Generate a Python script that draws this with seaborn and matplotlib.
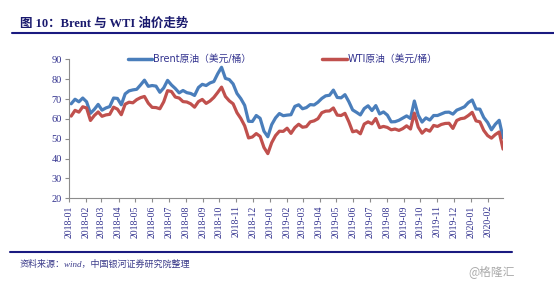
import pandas as pd
import matplotlib.pyplot as plt
import matplotlib.dates as mdates
from matplotlib.lines import Line2D
import seaborn as sns

# weekly (Friday) closes
weeks = pd.date_range('2018-01-05', '2020-02-28', freq='W-FRI')

brent = [
    # 2018
    67.6, 69.9, 68.6, 70.5,
    68.6, 62.8, 64.8, 67.3,
    64.4, 65.5, 66.2, 70.5, 70.3,
    67.1, 72.6, 74.1, 74.6,
    74.9, 77.1, 79.5, 76.4,
    76.8, 76.5, 73.4, 75.6, 79.4,
    77.1, 75.3, 73.1, 74.3,
    73.2, 72.8, 71.8, 75.8, 77.4,
    76.8, 78.1, 78.8, 82.7,
    86.0, 80.4, 79.8, 77.6,
    72.8, 70.2, 66.8, 58.8, 58.7,
    61.7, 60.3, 53.8, 51.0,
    # 2019
    57.1, 60.5, 62.7, 61.6,
    61.9, 62.1, 66.3, 67.1,
    65.1, 65.7, 67.2, 67.0, 68.4,
    70.3, 71.6, 71.9, 74.5,
    70.8, 70.6, 72.2, 68.7, 64.5,
    63.3, 62.0, 65.2, 66.6,
    64.2, 66.7, 62.5, 63.5,
    61.9, 58.5, 58.6, 59.3, 60.4,
    61.5, 60.2, 69.0, 61.9,
    58.4, 60.5, 59.4, 61.7,
    61.7, 62.5, 63.3, 63.4, 62.4,
    64.4, 65.2, 66.1, 68.2,
    # 2020
    69.5, 65.0, 64.9, 60.7, 58.2,
    54.5, 57.3, 59.3, 50.5,
]

wti = [
    # 2018
    61.4, 64.3, 63.4, 66.1,
    65.5, 59.2, 61.7, 63.5,
    61.3, 62.0, 62.3, 65.9, 64.9,
    62.1, 67.4, 68.4, 68.1,
    69.7, 70.7, 71.3, 67.9,
    65.8, 65.7, 65.1, 68.6, 74.2,
    73.8, 71.0, 70.5, 68.7,
    68.5, 67.6, 65.9, 68.7, 69.8,
    67.8, 69.0, 70.8, 73.3,
    76.0, 71.3, 69.1, 67.6,
    63.1, 60.2, 56.5, 50.4, 50.9,
    52.6, 51.2, 45.6, 42.5,
    # 2019
    48.0, 51.6, 53.8, 53.7,
    55.3, 52.7, 55.6, 57.3,
    55.8, 56.1, 58.5, 59.0, 60.1,
    63.1, 63.9, 64.0, 65.5,
    61.9, 61.7, 62.8, 58.6, 53.5,
    54.0, 52.5, 57.4, 58.5,
    57.5, 60.2, 55.6, 56.2,
    55.7, 54.5, 54.9, 54.2, 55.1,
    56.5, 54.9, 62.9, 55.9,
    52.8, 54.7, 53.8, 56.7,
    56.2, 57.2, 57.7, 57.8, 55.2,
    59.2, 60.1, 60.4, 61.7,
    # 2020
    63.3, 59.0, 58.5, 54.2, 51.6,
    50.3, 52.1, 53.4, 44.8,
]

series_names = ['Brent原油（美元/桶）', 'WTI原油（美元/桶）']
colors = ['#4a7ebb', '#c0504d']

df = pd.DataFrame({'date': weeks, series_names[0]: brent, series_names[1]: wti})
df = df.melt('date', var_name='series', value_name='price')

sns.set_theme(style='white')
plt.rcParams['font.family'] = ['Liberation Serif', 'Noto Sans CJK SC']

navy = '#33338f'
fig = plt.figure(figsize=(5.54, 2.86), dpi=100)
ax = fig.add_axes([0.1245, 0.3066, 0.7835, 0.486])

sns.lineplot(df, x='date', y='price', hue='series', palette=colors,
             linewidth=2.3, ax=ax)

ax.set_xlim(pd.Timestamp('2018-01-01'), pd.Timestamp('2020-02-28'))
ax.set_ylim(20, 90)
ax.set_yticks(range(20, 91, 10))
ax.xaxis.set_major_locator(mdates.MonthLocator())
ax.xaxis.set_major_formatter(mdates.DateFormatter('%Y-%m'))
ax.set_xlabel('')
ax.set_ylabel('')

for s in ['top', 'right']:
    ax.spines[s].set_visible(False)
for s in ['left', 'bottom']:
    ax.spines[s].set_color('#8c8c8c')
    ax.spines[s].set_linewidth(0.8)

ax.tick_params(axis='x', rotation=90, labelsize=7, colors='#8c8c8c',
               labelcolor=navy, length=3, width=0.8, direction='out', pad=2,
               bottom=True)
ax.tick_params(axis='y', labelsize=7.5, colors='#8c8c8c', labelcolor=navy,
               length=3, width=0.8, direction='out', pad=2, left=True)

leg = ax.legend(ncol=2, loc='center left', bbox_to_anchor=(0.136, 1.0),
                frameon=False, handlelength=2.5,
                handletextpad=0.1, columnspacing=7.3, borderpad=0,
                borderaxespad=0, prop={'family': ['DejaVu Sans', 'Noto Sans CJK SC'], 'size': 7})
for t in leg.get_texts():
    t.set_color(navy)
for h in leg.legend_handles:
    h.set_linewidth(2.5)

fig.text(20 / 554, 1 - 24 / 286, '图 10：Brent 与 WTI 油价走势', fontsize=9,
         weight='bold', color='#1a1a6e', va='center')
fig.add_artist(Line2D([12 / 554, 1.0], [1 - 33 / 286] * 2, color='#1a1a80', lw=1.5))
fig.add_artist(Line2D([10 / 554, 512 / 554], [1 - 252 / 286] * 2, color='#1a1a80', lw=1.5))
fig.text(20 / 554, 1 - 264 / 286, '资料来源：wind，中国银河证券研究院整理',
         fontsize=6.5, style='italic', color='#3a3a8a', va='center')
fig.text(515 / 554, 1 - 272 / 286, '@格隆汇', fontsize=8.5, color='#aaaaaa',
         ha='right', va='center', family=['Noto Sans CJK SC', 'DejaVu Sans'])

fig.savefig('out.png', dpi=100)
